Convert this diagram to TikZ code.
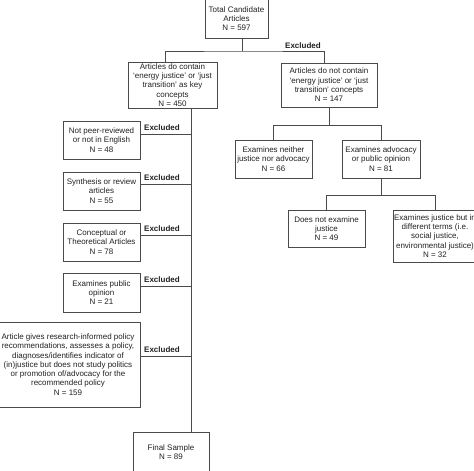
\documentclass[tikz,border=0pt]{standalone}
\usepackage{fontspec}
\setmainfont{Liberation Sans}
\definecolor{boxc}{HTML}{4A4A4A}
\definecolor{linec}{HTML}{4A4A4A}
\definecolor{txt}{HTML}{222222}
\begin{document}
\begin{tikzpicture}[x=1pt,y=-1pt,
  box/.style={draw=boxc, line width=0.8pt, align=center, inner sep=0pt,
    text=txt, font=\fontsize{8}{9.3}\selectfont},
  conn/.style={draw=linec, line width=0.8pt},
  exl/.style={anchor=base west, inner sep=0pt, text=txt,
    font=\bfseries\fontsize{8}{9}\selectfont}]
\useasboundingbox (0,0) rectangle (474,471);
\fill[white] (0,0) rectangle (474,471);
% boxes
\node[box, minimum width=63pt, minimum height=40pt] (top) at (236.5,18.5) {Total Candidate\\Articles\\N = 597};
\node[box, minimum width=89pt, minimum height=46pt] (L) at (172.5,85) {Articles do contain\\‘energy justice’ or ‘just\\transition’ as key\\concepts\\N = 450};
\node[box, minimum width=96pt, minimum height=44pt] (R) at (329,85) {Articles do not contain\\‘energy justice’ or ‘just\\transition’ concepts\\N = 147};
\node[box, minimum width=77pt, minimum height=38pt] (E1) at (273.5,159) {Examines neither\\justice nor advocacy\\N = 66};
\node[box, minimum width=78pt, minimum height=38pt] (E2) at (381,159) {Examines advocacy\\or public opinion\\N = 81};
\node[box, minimum width=77pt, minimum height=37pt] (D1) at (326.5,228.5) {Does not examine\\justice\\N = 49};
\node[box, minimum width=84pt, minimum height=52pt] (D2) at (435,236) {Examines justice but in\\different terms (i.e.\\social justice,\\environmental justice)\\N = 32};
\node[box, minimum width=77pt, minimum height=38pt] (b1) at (101.5,140) {Not peer-reviewed\\or not in English\\N = 48};
\node[box, minimum width=77pt, minimum height=38pt] (b2) at (101.5,191) {Synthesis or review\\articles\\N = 55};
\node[box, minimum width=77pt, minimum height=38pt] (b3) at (101.5,242) {Conceptual or\\Theoretical Articles\\N = 78};
\node[box, minimum width=77pt, minimum height=39pt] (b4) at (101.5,292.5) {Examines public\\opinion\\N = 21};
\node[box, minimum width=144pt, minimum height=85pt] (b5) at (68,364.5) {Article gives research-informed policy\\recommendations, assesses a policy,\\diagnoses/identifies indicator of\\(in)justice but does not study politics\\or promotion of/advocacy for the\\recommended policy\\N = 159};
\node[box, minimum width=76pt, minimum height=40pt] (F) at (171,452) {Final Sample\\N = 89};
% junctions
\coordinate (jt) at (242,51);
\coordinate (tr) at (191,0);
\coordinate (h1) at (0,125);
\coordinate (h2) at (0,195);
% top split
\draw[conn] (top.south -| jt) -- (jt);
\draw[conn] ([xshift=-7.5pt]L.north) |- (jt) -| ([xshift=-5pt]R.north);
\node[exl] (x0) at (285,48) {Excluded};
% left trunk
\draw[conn] (L.south -| tr) -- (F.north -| tr);
\draw[conn] ([yshift=6pt]b1.east) -- ([yshift=6pt]b1.east -| tr);
\draw[conn] ([yshift=7pt]b2.east) -- ([yshift=7pt]b2.east -| tr);
\draw[conn] ([yshift=7pt]b3.east) -- ([yshift=7pt]b3.east -| tr);
\draw[conn] ([yshift=6.5pt]b4.east) -- ([yshift=6.5pt]b4.east -| tr);
\draw[conn] ([yshift=8.5pt]b5.east) -- ([yshift=8.5pt]b5.east -| tr);
\node[exl] (x1) at (144,130.5) {Excluded};
\node[exl] (x2) at (144,180.5) {Excluded};
\node[exl] (x3) at (144,231.5) {Excluded};
\node[exl] (x4) at (144,282.5) {Excluded};
\node[exl] (x5) at (144,352.5) {Excluded};
% right branch
\draw[conn] (R.south) -- (R.south |- h1);
\draw[conn] (E1.north) |- (E2.north |- h1) -- (E2.north);
\draw[conn] (E2.south) -- (E2.south |- h2);
\draw[conn] (D1.north) |- (D2.north |- h2) -- (D2.north);
\end{tikzpicture}
\end{document}
